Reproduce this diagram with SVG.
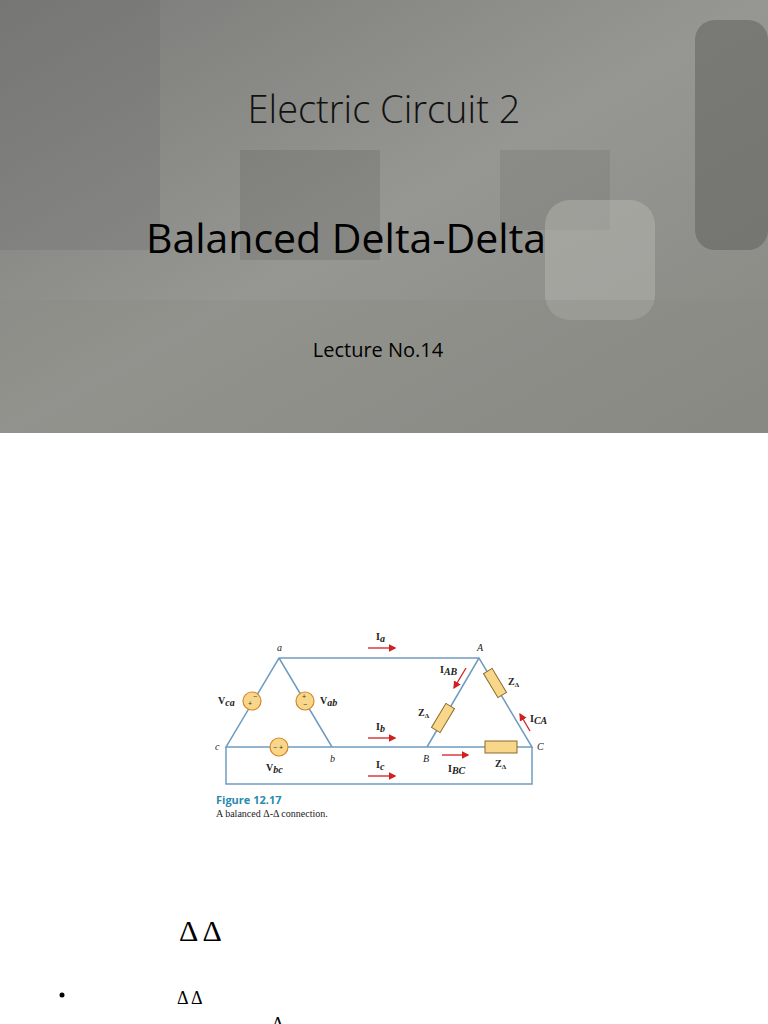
<svg xmlns="http://www.w3.org/2000/svg" width="768" height="1024" viewBox="0 0 768 1024">
<style>
.w{stroke:#6f9cc0;stroke-width:1.5;fill:none}
.s{fill:#f8d78a;stroke:#d8862a;stroke-width:1.2}
.r{fill:#f8d78a;stroke:#8a6a2a;stroke-width:1}
.l{font-family:"Liberation Serif",serif;font-size:10px;fill:#222}
.li{font-family:"Liberation Serif",serif;font-size:10px;font-style:italic;fill:#222}
.b{font-weight:bold}
.pm{font-family:"Liberation Sans",sans-serif;font-size:7px;fill:#333}
.ar{stroke:#d02020;stroke-width:1.3;marker-end:url(#ah)}
</style>
<defs>
<marker id="ah" markerWidth="6" markerHeight="6" refX="5" refY="3" orient="auto"><path d="M0,0 L6,3 L0,6z" fill="#d02020"/></marker>
<linearGradient id="bg" x1="0" y1="0" x2="1" y2="1"><stop offset="0" stop-color="#7a7a78"/><stop offset="0.5" stop-color="#969692"/><stop offset="1" stop-color="#888883"/></linearGradient>
</defs>
<rect width="768" height="1024" fill="#fff"/>
<g id="photo">
<rect width="768" height="433" fill="url(#bg)"/>
<rect x="0" y="0" width="160" height="250" fill="#6e6e6c" opacity="0.3"/>
<rect x="240" y="150" width="140" height="110" fill="#5a5a58" opacity="0.25"/>
<rect x="500" y="150" width="110" height="80" fill="#6a6a67" opacity="0.25"/>
<rect x="695" y="20" width="73" height="230" rx="20" fill="#5c5c5a" opacity="0.5"/>
<rect x="545" y="200" width="110" height="120" rx="25" fill="#c8c8c4" opacity="0.35"/>
<rect x="0" y="300" width="768" height="133" fill="#8c8b84" opacity="0.3"/>
</g>
<g id="titles" font-family="'Open Sans','Liberation Sans',sans-serif" text-anchor="middle">
<text x="384" y="123" font-size="38" fill="#111" font-weight="300">Electric Circuit 2</text>
<text x="346" y="253" font-size="41" fill="#000">Balanced Delta-Delta</text>
<text x="378" y="357" font-size="20" fill="#000">Lecture No.14</text>
</g>
<g id="connectors">
<path class="w" d="M279,658 L479,658 L532,747 L226,747 Z M279,658 L332,747 M479,658 L427,747 M226,747 L226,784 L532,784 L532,747"/>
<line class="ar" x1="368" y1="648" x2="395" y2="648"/>
<line class="ar" x1="368" y1="738" x2="395" y2="738"/>
<line class="ar" x1="368" y1="776" x2="395" y2="776"/>
<line class="ar" x1="442" y1="755" x2="468" y2="755"/>
<line class="ar" x1="466" y1="668" x2="454" y2="688"/>
<line class="ar" x1="530" y1="731" x2="520" y2="714"/>
</g>
<g id="sources">
<circle class="s" cx="252" cy="701" r="9"/><text class="pm" x="248" y="706">+</text><text class="pm" x="253" y="699">−</text>
<circle class="s" cx="305" cy="701" r="9"/><text class="pm" x="302" y="699">+</text><text class="pm" x="303" y="707">−</text>
<circle class="s" cx="279" cy="747" r="9"/><text class="pm" x="273" y="750">− +</text>
</g>
<g id="loads">
<rect class="r" x="-5" y="-14" width="10" height="28" transform="translate(443,718) rotate(31)"/>
<rect class="r" x="-5" y="-14" width="10" height="28" transform="translate(495,683) rotate(-31)"/>
<rect class="r" x="485" y="741" width="32" height="12"/>
</g>
<g id="labels">
<text class="li" x="277" y="651">a</text>
<text class="li" x="477" y="651">A</text>
<text class="li" x="215" y="750">c</text>
<text class="li" x="330" y="762">b</text>
<text class="li" x="423" y="762">B</text>
<text class="li" x="537" y="750">C</text>
<text class="l b" x="376" y="640">I<tspan class="li" font-size="7" dy="2">a</tspan></text>
<text class="l b" x="376" y="730">I<tspan class="li" font-size="7" dy="2">b</tspan></text>
<text class="l b" x="376" y="768">I<tspan class="li" font-size="7" dy="2">c</tspan></text>
<text class="l b" x="440" y="673">I<tspan class="li" font-size="7" dy="2">AB</tspan></text>
<text class="l b" x="530" y="722">I<tspan class="li" font-size="7" dy="2">CA</tspan></text>
<text class="l b" x="448" y="772">I<tspan class="li" font-size="7" dy="2">BC</tspan></text>
<text class="l b" x="218" y="704">V<tspan class="li" font-size="7" dy="2">ca</tspan></text>
<text class="l b" x="320" y="704">V<tspan class="li" font-size="7" dy="2">ab</tspan></text>
<text class="l b" x="266" y="771">V<tspan class="li" font-size="7" dy="2">bc</tspan></text>
<text class="l b" x="508" y="685">Z<tspan font-size="7" dy="2">Δ</tspan></text>
<text class="l b" x="418" y="716">Z<tspan font-size="7" dy="2">Δ</tspan></text>
<text class="l b" x="495" y="767">Z<tspan font-size="7" dy="2">Δ</tspan></text>
<text x="216" y="804" font-family="'Open Sans','Liberation Sans',sans-serif" font-weight="bold" font-size="11" fill="#2a8ab0">Figure 12.17</text>
<text class="l" x="216" y="817">A balanced Δ-Δ connection.</text>
</g>
<g id="bottom" font-family="'Liberation Serif',serif" fill="#000">
<text x="179" y="941" font-size="30">Δ Δ</text>
<circle cx="62" cy="995" r="2.5"/>
<text x="177" y="1004" font-size="18">Δ Δ</text>
<text x="272" y="1030" font-size="18">Δ</text>
</g>
</svg>
